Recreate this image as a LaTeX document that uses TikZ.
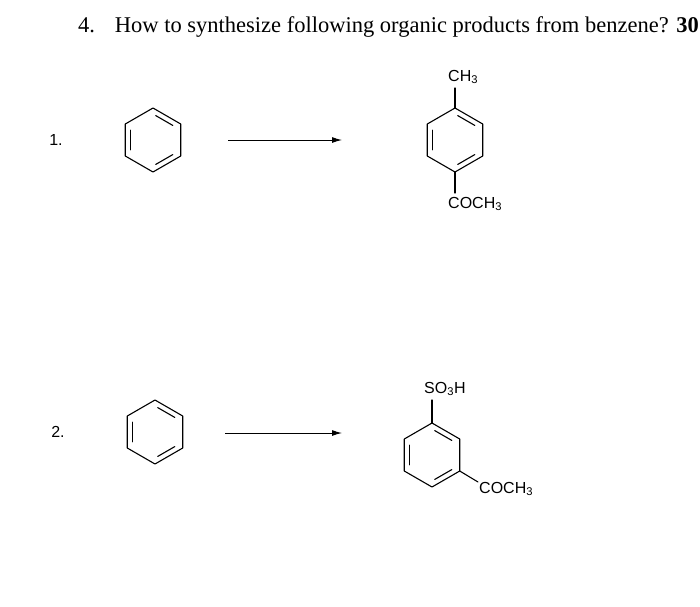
\documentclass[tikz,border=0pt]{standalone}
\usepackage{fontspec}
\setmainfont{Liberation Serif}
\newfontfamily\arial{Liberation Sans}
\usetikzlibrary{arrows.meta,calc}
\tikzset{bond/.style={line width=1.1pt,line cap=round,line join=round},
lbl/.style={font=\arial\fontsize{16}{16}\selectfont,inner sep=0pt},
rxn/.style={line width=1pt,-{Latex[length=10pt,width=6pt]}}}
\newcommand{\ring}[3]{% x y name
 \begin{scope}[shift={(#1,#2)}]
 \draw[bond] (90:32) -- (150:32) -- (210:32) -- (270:32) -- (330:32) -- (30:32) -- cycle;
 \draw[bond] ($(30:26)!0.12!(90:26)$) -- ($(30:26)!0.88!(90:26)$);
 \draw[bond] ($(150:26)!0.12!(210:26)$) -- ($(150:26)!0.88!(210:26)$);
 \draw[bond] ($(270:26)!0.12!(330:26)$) -- ($(270:26)!0.88!(330:26)$);
 \coordinate (#3t) at (270:32); \coordinate (#3b) at (90:32); \coordinate (#3r) at (30:32);
 \end{scope}}
\begin{document}
\begin{tikzpicture}[x=1pt,y=-1pt]
\useasboundingbox (0,0) rectangle (700,606);
\clip (0,0) rectangle (700,606);
\node[anchor=base west,inner sep=0pt,font=\fontsize{22.5}{22.5}\selectfont] (title) at (78,32) {4.\hspace{0.55em} How to synthesize following organic products from benzene? \textbf{30}};
\node[lbl] (n1) at (56,140) {1.};
\node[lbl] (n2) at (58,432) {2.};
\ring{153}{140}{a}
\ring{455}{140}{p}
\ring{155}{432}{c}
\ring{432}{455}{q}
\coordinate (a1) at (228,140); \coordinate (a2) at (342,140);
\draw[rxn] (a1) -- (a2);
\coordinate (b1) at (225,433); \coordinate (b2) at (342,433);
\draw[rxn] (b1) -- (b2);
\node[lbl,anchor=south west] (ch3) at (448,84) {CH\textsubscript{3}};
\draw[bond] (pt) -- (455,88);
\node[lbl,anchor=north west] (coch3) at (448,197) {COCH\textsubscript{3}};
\draw[bond] (pb) -- (455,193);
\node[lbl,anchor=south west] (so3h) at (424,396) {SO\textsubscript{3}H};
\draw[bond] (qt) -- (432,400);
\draw[bond] (qr) -- (478,482);
\node[lbl,anchor=west] (coch3b) at (479,489) {COCH\textsubscript{3}};
\end{tikzpicture}
\end{document}
